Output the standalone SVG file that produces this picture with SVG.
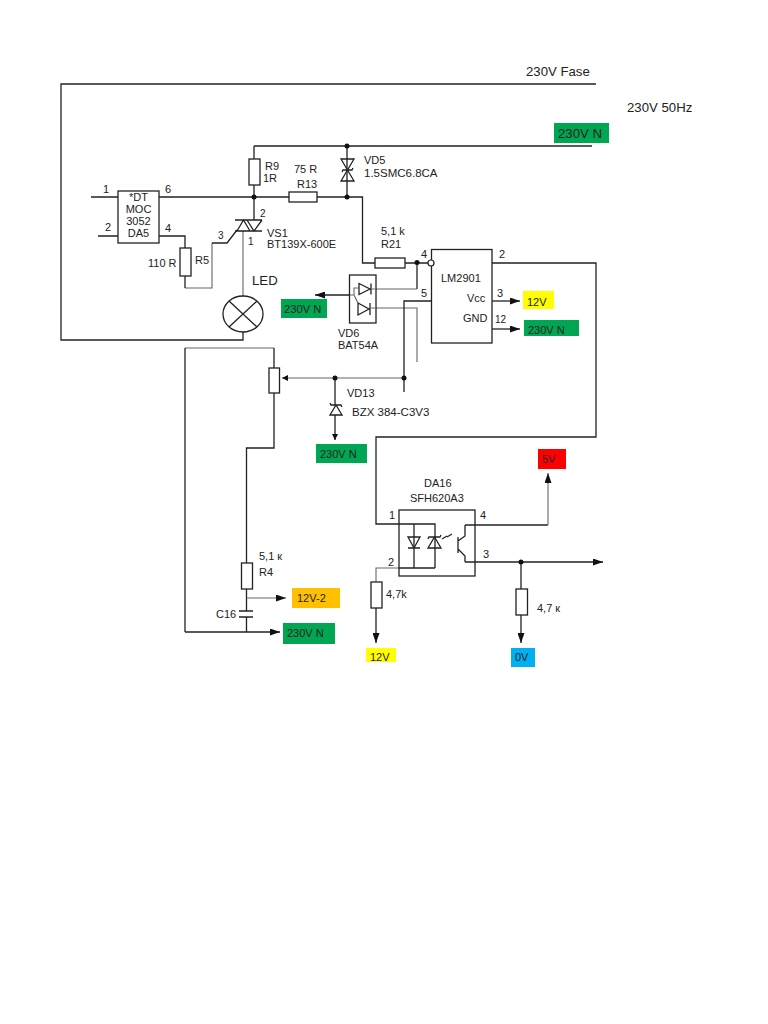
<svg xmlns="http://www.w3.org/2000/svg" width="768" height="1024" viewBox="0 0 768 1024">
<style>
text{font-family:"Liberation Sans",Arial,sans-serif;font-size:11px;fill:#222}
.w{fill:none;stroke:#222;stroke-width:1.3}
.g{fill:none;stroke:#666;stroke-width:1.1}
.b{fill:#fff;stroke:#222;stroke-width:1.3}
.n{fill:none;stroke:#222;stroke-width:1.3}
.d{fill:#111}
.l{font-size:11.200px}
.s{font-size:10px}
.m{font-size:11.500px}
.t{font-size:13.200px}
.c{text-anchor:middle}
</style>
<defs>
<marker id="a" markerUnits="userSpaceOnUse" markerWidth="12" markerHeight="7" refX="10" refY="3.500" orient="auto"><path d="M0 0L10 3.500L0 7z" fill="#111"/></marker>
<marker id="v" markerUnits="userSpaceOnUse" markerWidth="8" markerHeight="6" refX="6" refY="3" orient="auto"><path d="M0 0L6 3L0 6z" fill="#111"/></marker>
</defs>
<rect width="768" height="1024" fill="#fff"/>
<g id="connectors">
<path class="w" d="M596 84H61V340H243V332"/>
<path class="g" d="M243 231V296"/>
<path class="w" d="M254 146H592"/>
<path class="w" d="M254 146V159M254 185V197M347 146V197M254 197V220"/>
<path class="w" d="M91 197H118M159 197H289M317 197H347"/>
<path class="w" d="M98 236H118M159 236H185V248"/>
<path class="g" d="M185 288H212V243"/>
<path class="w" d="M212 243H227L237 230"/>
<path class="w" d="M347 197H362.500V263H375M405 263H428"/>
<path class="w" d="M417 263V289"/>
<path class="g" d="M376 289H417M376 308H417V362"/>
<path class="w" d="M432 301H404V378"/>
<path class="g" d="M404 378H282" marker-end="url(#v)"/>
<path class="w" d="M404 378V392"/>
<path class="w" d="M350 295H315" marker-end="url(#a)"/>
<path class="w" d="M492 263H596V437H376V524H399"/>
<path class="w" d="M492 301H520" marker-end="url(#a)"/>
<path class="w" d="M492 329H520" marker-end="url(#a)"/>
<path class="w" d="M335 378V405M335 415V440" marker-end="url(#v)"/>
<path class="g" d="M274 348H185"/>
<path class="w" d="M185 348V632"/>
<path class="w" d="M274 348V368M274 393V448H246.500V563M246.500 589V611M246.500 617V632"/>
<path class="g" d="M246.500 598H286" marker-end="url(#a)"/>
<path class="w" d="M185 632H280" marker-end="url(#a)"/>
<path class="w" d="M399 524H435V568M414 524V568"/>
<path class="g" d="M399 568H376V582"/>
<path class="w" d="M399 568H435"/>
<path class="w" d="M376 608V643" marker-end="url(#a)"/>
<path class="w" d="M465 525H548"/>
<path class="g" d="M548 525V473" marker-end="url(#a)"/>
<path class="w" d="M465 562H603" marker-end="url(#a)"/>
<path class="w" d="M521 562V589M521 615V643" marker-end="url(#a)"/>
<circle class="d" cx="347" cy="146" r="2.500"/><circle class="d" cx="254" cy="197" r="2.500"/><circle class="d" cx="347" cy="197" r="2.500"/><circle class="d" cx="417" cy="262.500" r="2.500"/><circle class="d" cx="404" cy="378" r="2.500"/><circle class="d" cx="335" cy="378" r="2.500"/><circle class="d" cx="521" cy="562" r="2.500"/>
</g>
<g id="DA5"><rect class="b" x="118" y="191" width="41" height="52"/><text x="138.500" y="201" class="c">*DT</text><text x="138.500" y="213" class="c">MOC</text><text x="138.500" y="225" class="c">3052</text><text x="138.500" y="237" class="c">DA5</text><text x="103" y="193">1</text><text x="105" y="231">2</text><text x="165" y="193">6</text><text x="165" y="232">4</text></g>
<g id="R9"><rect class="b" x="249" y="159" width="11" height="26"/><text x="265" y="170">R9</text><text x="263" y="182">1R</text></g>
<g id="R13"><rect class="b" x="289" y="192" width="28" height="10"/><text x="294" y="173">75 R</text><text x="297" y="188">R13</text></g>
<g id="VD5"><path class="n" d="M341 159H354L347.500 170L341 159ZM341 181H354L347.500 170L341 181Z"/><path class="n" d="M342 172L343 170H352L353 168"/><text x="364" y="164">VD5</text><text x="364" y="177" class="m">1.5SMC6.8CA</text></g>
<g id="VS1"><path class="n" d="M235 220H262M235 231H262M237 231L243.500 220L250 231M247 220L254 231L262 220"/><text x="260" y="217" class="s">2</text><text x="248" y="245" class="s">1</text><text x="218" y="239" class="s">3</text><text x="267" y="237">VS1</text><text x="267" y="248">BT139X-600E</text></g>
<g id="R5"><rect class="b" x="180" y="248" width="11" height="28"/><path class="w" d="M185 276V288"/><text x="148" y="267">110 R</text><text x="195" y="264">R5</text></g>
<g id="LED"><ellipse class="b" cx="243" cy="314" rx="20" ry="18"/><path class="n" d="M229 301L257 327M257 301L229 327"/><text x="252" y="285" class="t">LED</text></g>
<g id="n230a"><rect x="281" y="299" width="46" height="19" fill="#00a651"/><text x="284" y="313" class="l">230V N</text></g>
<g id="R21"><rect class="b" x="375" y="258" width="30" height="10"/><text x="381" y="235">5,1 k</text><text x="381" y="248">R21</text><text x="421" y="258">4</text></g>
<g id="VD6"><rect class="b" x="349.500" y="275" width="26.500" height="48"/><path class="n" d="M359 283.500L370 289L359 294.500ZM371 283.500V294.500M358 303L369 309L358 315ZM370 303V315"/><path class="g" d="M359 288H354V295M358 303L354 295M350 295H354M371 289H376M370 308H376"/><text x="338" y="337">VD6</text><text x="338" y="349">BAT54A</text></g>
<g id="LM2901"><rect class="b" x="431.500" y="249.500" width="60.500" height="93.500"/><circle cx="431" cy="263" r="3" fill="#fff" stroke="#222" stroke-width="1.200"/><text x="441" y="282">LM2901</text><text x="467" y="302">Vcc</text><text x="463" y="322">GND</text><text x="421" y="297">5</text><text x="499" y="258">2</text><text x="497" y="297">3</text><text x="495" y="323" class="s">12</text></g>
<g id="l12a"><rect x="523" y="291" width="31" height="18" fill="#ffff00"/><text x="527" y="306">12V</text></g>
<g id="l230b"><rect x="524" y="320" width="55" height="16" fill="#00a651"/><text x="528" y="334">230V N</text></g>
<g id="P1"><rect class="b" x="269" y="368" width="10.500" height="25"/></g>
<g id="VD13"><path class="n" d="M330 415H342L336 405ZM330 403L331 405H341L342 407"/><text x="347" y="397">VD13</text><text x="352" y="416" class="m">BZX 384-C3V3</text></g>
<g id="l230c"><rect x="316" y="444" width="51" height="19" fill="#00a651"/><text x="320" y="458">230V N</text></g>
<g id="R4"><rect class="b" x="241.500" y="563" width="11" height="26"/><text x="259" y="560">5,1 к</text><text x="259" y="576">R4</text></g>
<g id="C16"><path class="n" d="M239 611H253M239 617H253"/><text x="216" y="618">C16</text></g>
<g id="l12v2"><rect x="292" y="588" width="48" height="20" fill="#ffc000"/><text x="297" y="602">12V-2</text></g>
<g id="l230d"><rect x="283" y="623" width="52" height="21" fill="#00a651"/><text x="287" y="637">230V N</text></g>
<g id="DA16"><rect class="n" x="399" y="510" width="76" height="66"/><path class="n" d="M408 537H420L414 548ZM408 548H420M428 548H441L434.500 537ZM428 539L429 537H440L441 535M442 539L447 536M447 537L452 534"/><path class="w" d="M458 537V553M458 541L465 536V525M458 549L465 556V562"/><text x="424" y="487">DA16</text><text x="410" y="502">SFH620A3</text><text x="389" y="519">1</text><text x="388" y="566">2</text><text x="480" y="519">4</text><text x="483" y="558">3</text></g>
<g id="l5v"><rect x="538" y="449" width="28" height="20" fill="#ff0000"/><text x="542" y="463">5V</text></g>
<g id="R47a"><rect class="b" x="371" y="582" width="11" height="26"/><text x="386" y="598">4,7k</text></g>
<g id="R47b"><rect class="b" x="516" y="589" width="11.500" height="26"/><text x="537" y="612">4,7 к</text></g>
<g id="l12b"><rect x="366" y="648" width="30" height="14" fill="#ffff00"/><text x="370" y="661">12V</text></g>
<g id="l0v"><rect x="511" y="648" width="24" height="19" fill="#00b0f0"/><text x="515" y="661">0V</text></g>
<g id="top"><text x="526" y="76" class="t">230V Fase</text><text x="627" y="112" class="t">230V 50Hz</text><rect x="554" y="123" width="55" height="20" fill="#00a651"/><text x="558" y="138" class="t">230V N</text></g>
</svg>
